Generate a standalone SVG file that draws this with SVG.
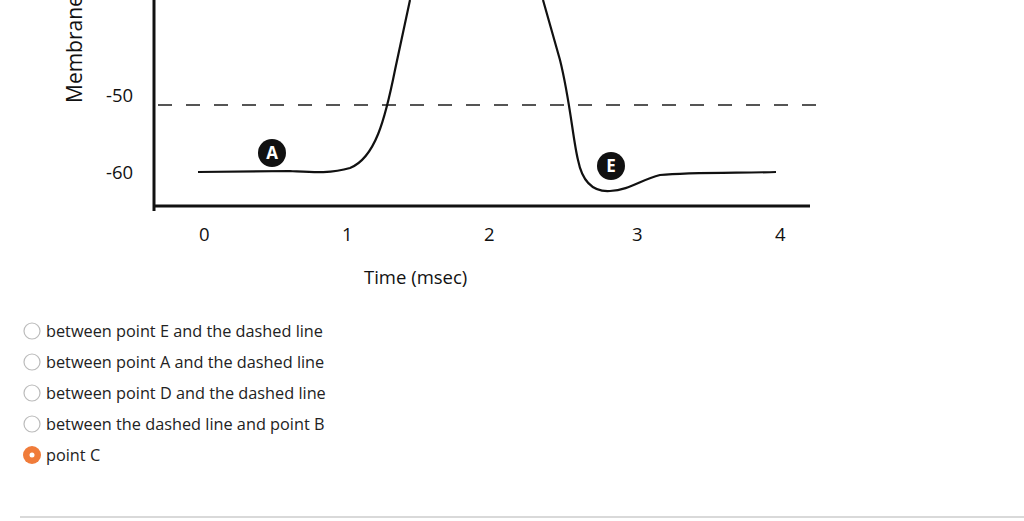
<svg xmlns="http://www.w3.org/2000/svg" width="1024" height="521" viewBox="0 0 1024 521">
<style>
.t{font-family:"Open Sans","Liberation Sans",sans-serif;font-size:18.5px;fill:#111}
.o{font-family:"Open Sans","Liberation Sans",sans-serif;font-size:16.3px;fill:#222}
.r{fill:#fff;stroke:#bbb;stroke-width:1.2}
.pt{fill:#111}
.pl{font-family:"Open Sans","Liberation Sans",sans-serif;font-size:17px;font-weight:bold;fill:#fff;text-anchor:middle}
</style>
<rect width="1024" height="521" fill="#fff"/>
<g id="axes" fill="none" stroke="#111">
<line x1="154" y1="0" x2="154" y2="211" stroke-width="3"/>
<line x1="154" y1="206" x2="810" y2="206" stroke-width="3"/>
<line x1="158" y1="105" x2="820" y2="105" stroke="#555" stroke-width="2" stroke-dasharray="14,14"/>
</g>
<g id="labels">
<text class="t" style="font-size:21px" transform="translate(82,103) rotate(-90)">Membrane</text>
<text class="t" x="106" y="102">-50</text>
<text class="t" x="106" y="179">-60</text>
<text class="t" x="199" y="241">0</text>
<text class="t" x="342" y="241">1</text>
<text class="t" x="484" y="241">2</text>
<text class="t" x="632" y="241">3</text>
<text class="t" x="775" y="241">4</text>
<text class="t" x="364" y="284">Time (msec)</text>
</g>
<g id="curve">
<path d="M198,172 L290,171 C310,172 330,174 350,168 C375,158 385,120 395,70 L410,0 M543,0 L560,60 C570,100 573,140 578,160 C583,185 595,192 610,191 C630,190 640,180 660,175 C690,172 740,173 776,172" fill="none" stroke="#111" stroke-width="2.2"/>
</g>
<g id="pointA"><circle class="pt" cx="272" cy="153" r="14"/><text class="pl" x="272" y="159">A</text></g>
<g id="pointE"><circle class="pt" cx="611" cy="166" r="14"/><text class="pl" x="611" y="172">E</text></g>
<g id="options">
<circle class="r" cx="32" cy="331" r="8"/><text class="o" x="46" y="337">between point E and the dashed line</text>
<circle class="r" cx="32" cy="362" r="8"/><text class="o" x="46" y="368">between point A and the dashed line</text>
<circle class="r" cx="32" cy="393" r="8"/><text class="o" x="46" y="399">between point D and the dashed line</text>
<circle class="r" cx="32" cy="424" r="8"/><text class="o" x="46" y="430">between the dashed line and point B</text>
<circle cx="32" cy="455" r="9" fill="#f07c3a"/><circle cx="32" cy="455" r="2.5" fill="#fff"/><text class="o" x="46" y="461">point C</text>
</g>
<line x1="20" y1="517" x2="1024" y2="517" stroke="#ccc" stroke-width="1.5"/>
</svg>
